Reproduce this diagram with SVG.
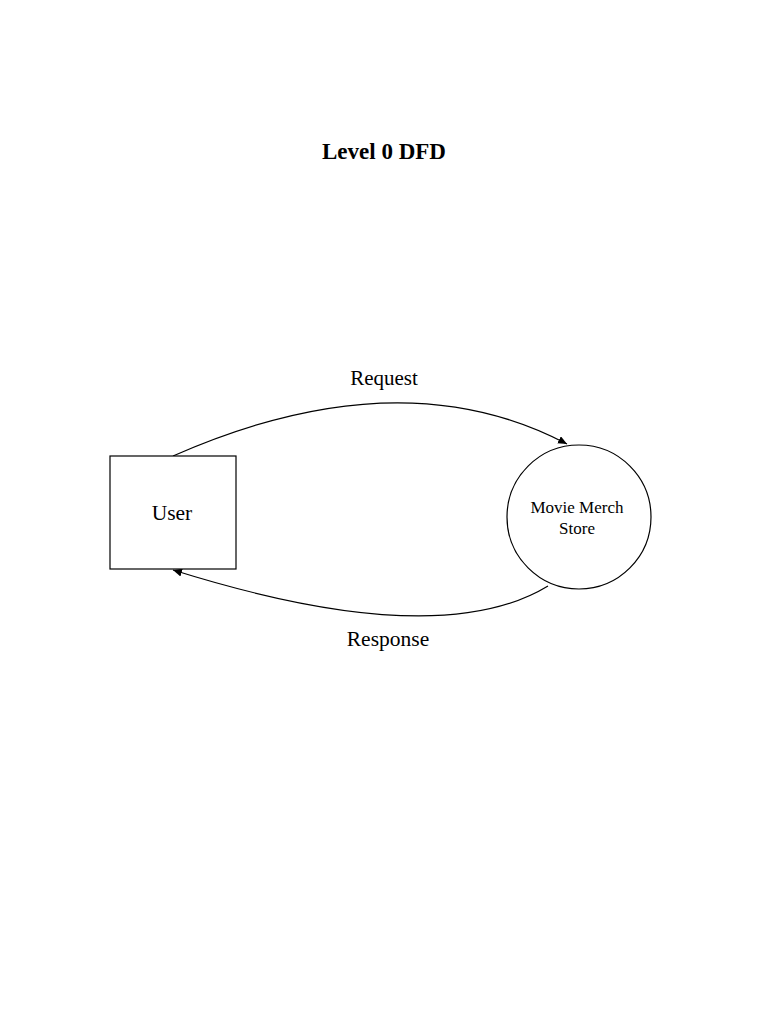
<svg xmlns="http://www.w3.org/2000/svg" width="768" height="1024" viewBox="0 0 768 1024">
<style>
text { font-family: "Liberation Serif", serif; fill: #000; text-anchor: middle; }
.shape { fill: #fff; stroke: #000; stroke-width: 1.2; }
.flow { fill: none; stroke: #000; stroke-width: 1.2; }
</style>
<defs>
<marker id="arrow" markerWidth="10" markerHeight="8" refX="9" refY="4" orient="auto" markerUnits="userSpaceOnUse">
<path d="M0,0 L9,4 L0,8 Z" fill="#000"/>
</marker>
</defs>
<rect width="768" height="1024" fill="#fff"/>
<text x="384" y="159" font-size="23" font-weight="bold">Level 0 DFD</text>
<g id="connectors">
<path class="flow" d="M173,456 Q400,356 567,444" marker-end="url(#arrow)"/>
<path class="flow" d="M548,586 Q438,653 173,570" marker-end="url(#arrow)"/>
<text x="384" y="385" font-size="21">Request</text>
<text x="388" y="646" font-size="21.5">Response</text>
</g>
<g id="user">
<rect class="shape" x="110" y="456" width="126" height="113"/>
<text x="172" y="520" font-size="21.5">User</text>
</g>
<g id="store">
<circle class="shape" cx="579" cy="517" r="72"/>
<text x="577" y="513" font-size="17">Movie Merch</text>
<text x="577" y="534" font-size="17">Store</text>
</g>
</svg>
